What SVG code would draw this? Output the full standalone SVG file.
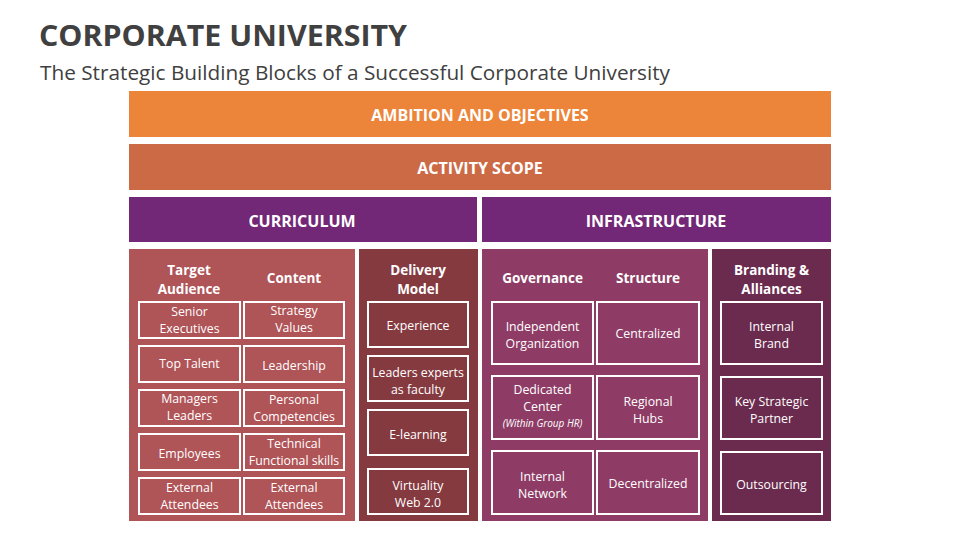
<svg xmlns="http://www.w3.org/2000/svg" width="960" height="540" viewBox="0 0 960 540">
<style>
text{font-family:"Open Sans","Noto Sans","DejaVu Sans",sans-serif;fill:#fff;text-anchor:middle}
.title{font-size:29px;font-weight:700;fill:#404040;text-anchor:start}
.sub{font-size:20px;fill:#404040;text-anchor:start}
.bar{font-size:16px;font-weight:700}
.hd{font-size:13.5px;font-weight:700}
.it{font-size:12.3px}
.sm{font-size:10px;font-style:italic}
.box{fill:none;stroke:#fff;stroke-width:2}
</style>
<rect width="960" height="540" fill="#fff"/>
<text class="title" x="39" y="46" textLength="368" lengthAdjust="spacingAndGlyphs">CORPORATE UNIVERSITY</text>
<text class="sub" x="40" y="80" textLength="630" lengthAdjust="spacingAndGlyphs">The Strategic Building Blocks of a Successful Corporate University</text>

<g id="ambition"><rect x="129" y="91" width="702" height="46" fill="#ec843a"/><text class="bar" x="480" y="121">AMBITION AND OBJECTIVES</text></g>
<g id="activity"><rect x="129" y="144" width="702" height="46" fill="#cc6a46"/><text class="bar" x="480" y="174">ACTIVITY SCOPE</text></g>
<g id="curriculum"><rect x="129" y="197" width="348" height="45" fill="#722877"/><text class="bar" x="302" y="227">CURRICULUM</text></g>
<g id="infrastructure"><rect x="482" y="197" width="349" height="45" fill="#722877"/><text class="bar" x="656" y="227">INFRASTRUCTURE</text></g>

<g id="panel-audience-content">
<rect x="129" y="249" width="226" height="272" fill="#af5457"/>
<text class="hd" x="189" y="275">Target</text><text class="hd" x="189" y="294">Audience</text>
<text class="hd" x="294" y="283">Content</text>
<rect class="box" x="139" y="302" width="101" height="36"/><text class="it" x="189.5" y="316">Senior</text><text class="it" x="189.5" y="333">Executives</text>
<rect class="box" x="139" y="346" width="101" height="36"/><text class="it" x="189.5" y="368">Top Talent</text>
<rect class="box" x="139" y="390" width="101" height="36"/><text class="it" x="189.5" y="403">Managers</text><text class="it" x="189.5" y="420">Leaders</text>
<rect class="box" x="139" y="434" width="101" height="36"/><text class="it" x="189.5" y="458">Employees</text>
<rect class="box" x="139" y="478" width="101" height="36"/><text class="it" x="189.5" y="492">External</text><text class="it" x="189.5" y="509">Attendees</text>
<rect class="box" x="244" y="302" width="100" height="36"/><text class="it" x="294" y="315">Strategy</text><text class="it" x="294" y="332">Values</text>
<rect class="box" x="244" y="346" width="100" height="36"/><text class="it" x="294" y="370">Leadership</text>
<rect class="box" x="244" y="390" width="100" height="36"/><text class="it" x="294" y="404">Personal</text><text class="it" x="294" y="421">Competencies</text>
<rect class="box" x="244" y="434" width="100" height="36"/><text class="it" x="294" y="448">Technical</text><text class="it" x="294" y="465">Functional skills</text>
<rect class="box" x="244" y="478" width="100" height="36"/><text class="it" x="294" y="492">External</text><text class="it" x="294" y="509">Attendees</text>
</g>

<g id="panel-delivery">
<rect x="359" y="249" width="119" height="272" fill="#853a3f"/>
<text class="hd" x="418" y="275">Delivery</text><text class="hd" x="418" y="294">Model</text>
<rect class="box" x="368" y="302" width="100" height="45"/><text class="it" x="418" y="330">Experience</text>
<rect class="box" x="368" y="356" width="100" height="45"/><text class="it" x="418" y="377">Leaders experts</text><text class="it" x="418" y="394">as faculty</text>
<rect class="box" x="368" y="410" width="100" height="45"/><text class="it" x="418" y="439">E-learning</text>
<rect class="box" x="368" y="469" width="100" height="45"/><text class="it" x="418" y="490">Virtuality</text><text class="it" x="418" y="507">Web 2.0</text>
</g>

<g id="panel-governance-structure">
<rect x="482" y="249" width="226" height="272" fill="#8e3c66"/>
<text class="hd" x="542.5" y="283">Governance</text>
<text class="hd" x="648" y="283">Structure</text>
<rect class="box" x="492" y="302" width="101" height="62"/><text class="it" x="542.5" y="331">Independent</text><text class="it" x="542.5" y="348">Organization</text>
<rect class="box" x="492" y="376" width="101" height="63"/><text class="it" x="542.5" y="394">Dedicated</text><text class="it" x="542.5" y="411">Center</text><text class="sm" x="542.5" y="427">(Within Group HR)</text>
<rect class="box" x="492" y="451" width="101" height="63"/><text class="it" x="542.5" y="481">Internal</text><text class="it" x="542.5" y="498">Network</text>
<rect class="box" x="597" y="302" width="102" height="62"/><text class="it" x="648" y="338">Centralized</text>
<rect class="box" x="597" y="376" width="102" height="63"/><text class="it" x="648" y="406">Regional</text><text class="it" x="648" y="423">Hubs</text>
<rect class="box" x="597" y="451" width="102" height="63"/><text class="it" x="648" y="488">Decentralized</text>
</g>

<g id="panel-branding">
<rect x="712" y="249" width="119" height="272" fill="#6b2b4e"/>
<text class="hd" x="771.5" y="275">Branding &amp;</text><text class="hd" x="771.5" y="294">Alliances</text>
<rect class="box" x="721" y="302" width="101" height="62"/><text class="it" x="771.5" y="331">Internal</text><text class="it" x="771.5" y="348">Brand</text>
<rect class="box" x="721" y="377" width="101" height="62"/><text class="it" x="771.5" y="406">Key Strategic</text><text class="it" x="771.5" y="423">Partner</text>
<rect class="box" x="721" y="452" width="101" height="62"/><text class="it" x="771.5" y="489">Outsourcing</text>
</g>
<g id="connectors"/>
</svg>
